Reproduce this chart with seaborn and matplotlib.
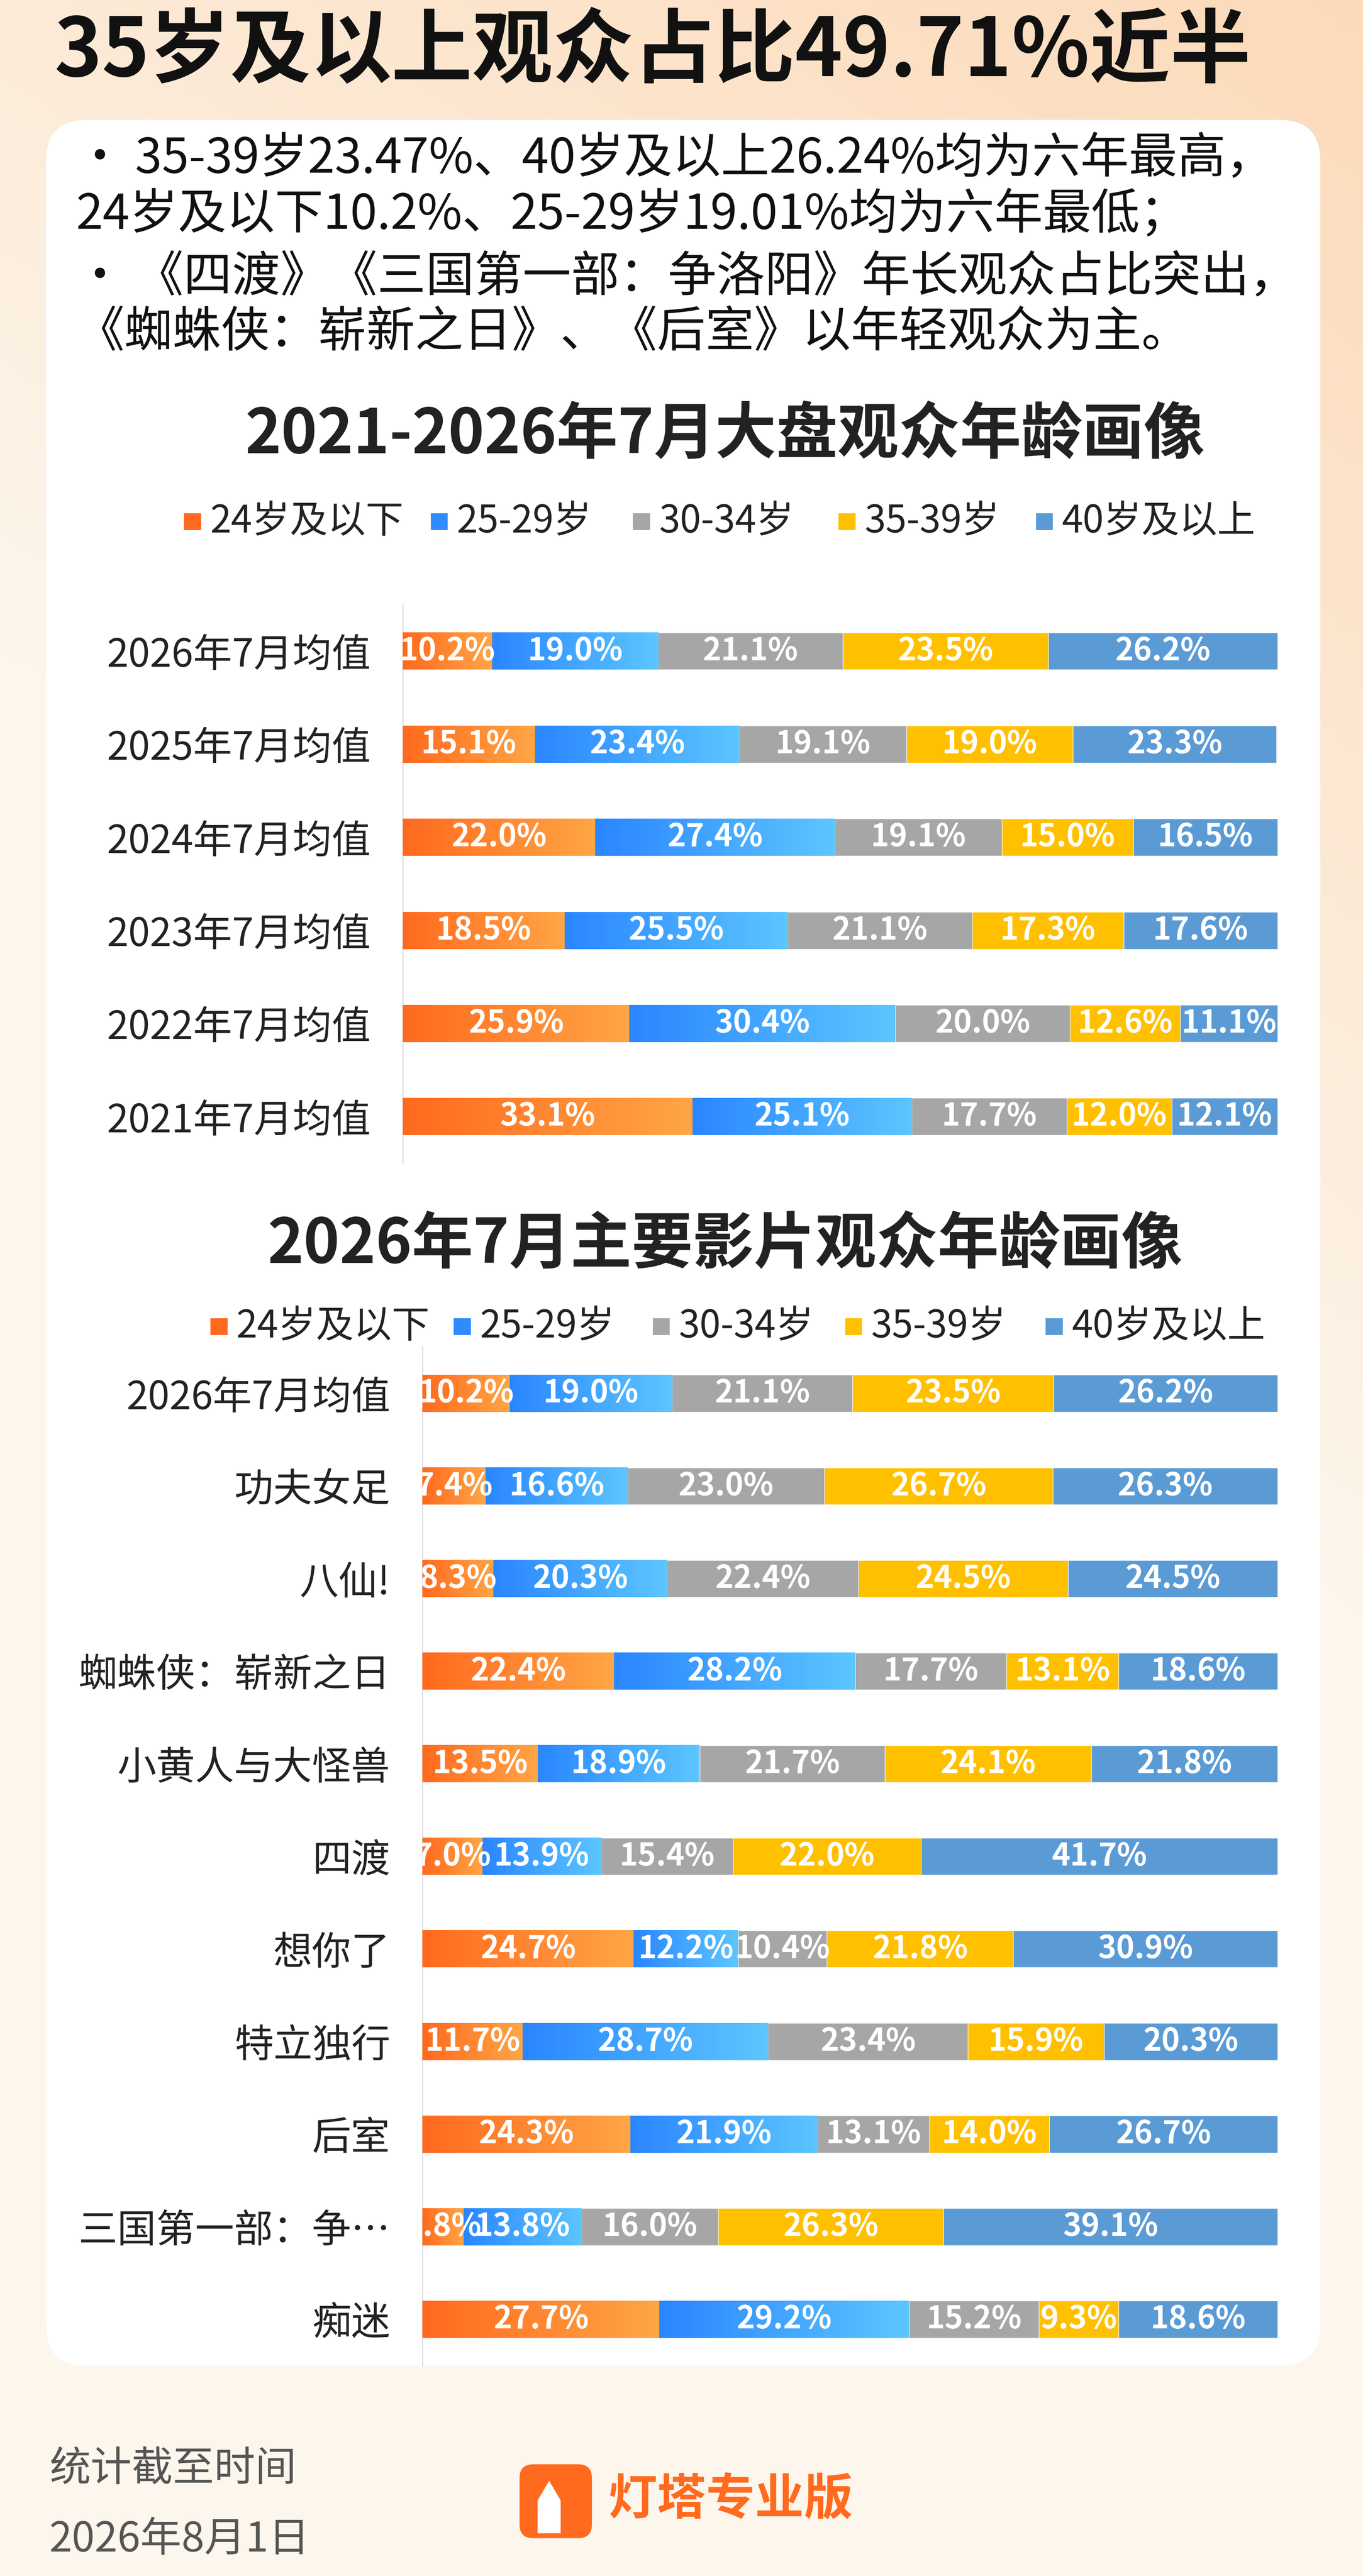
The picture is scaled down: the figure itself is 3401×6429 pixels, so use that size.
import numpy as np
import pandas as pd
import matplotlib
matplotlib.use('Agg')
import matplotlib.pyplot as plt
import seaborn as sns
from matplotlib.patches import FancyBboxPatch, Rectangle, Polygon

sns.set_theme(style='white')
plt.rcParams['font.family'] = ['Noto Sans CJK SC', 'DejaVu Sans']

# 数据
groups = ['24岁及以下', '25-29岁', '30-34岁', '35-39岁', '40岁及以上']
colors = ['#FF6A1F', '#2F8BFF', '#A6A6A6', '#FFC000', '#5B9BD5']
grad_colors = [('#FF6A1F', '#FFA545'), ('#2A86FF', '#5CC6FF')]

years = ['2026年7月均值', '2025年7月均值', '2024年7月均值', '2023年7月均值', '2022年7月均值', '2021年7月均值']
y_u24 = [10.2, 15.1, 22.0, 18.5, 25.9, 33.1]
y_25 = [19.0, 23.4, 27.4, 25.5, 30.4, 25.1]
y_30 = [21.1, 19.1, 19.1, 21.1, 20.0, 17.7]
y_35 = [23.5, 19.0, 15.0, 17.3, 12.6, 12.0]
y_40 = [26.2, 23.3, 16.5, 17.6, 11.1, 12.1]

films = ['2026年7月均值', '功夫女足', '八仙!', '蜘蛛侠：崭新之日', '小黄人与大怪兽', '四渡',
         '想你了', '特立独行', '后室', '三国第一部：争…', '痴迷']
f_u24 = [10.2, 7.4, 8.3, 22.4, 13.5, 7.0, 24.7, 11.7, 24.3, 4.8, 27.7]
f_25 = [19.0, 16.6, 20.3, 28.2, 18.9, 13.9, 12.2, 28.7, 21.9, 13.8, 29.2]
f_30 = [21.1, 23.0, 22.4, 17.7, 21.7, 15.4, 10.4, 23.4, 13.1, 16.0, 15.2]
f_35 = [23.5, 26.7, 24.5, 13.1, 24.1, 22.0, 21.8, 15.9, 14.0, 26.3, 9.3]
f_40 = [26.2, 26.3, 24.5, 18.6, 21.8, 41.7, 30.9, 20.3, 26.7, 39.1, 18.6]

W, H = 3401, 6429
fig = plt.figure(figsize=(W / 100, H / 100), dpi=100)
fig.patch.set_facecolor('#FDF6EC')

# 背景渐变
bg = fig.add_axes([0, 0, 1, 1], zorder=-10)
gx = np.linspace(0, 1, 200)
gy = np.linspace(0, 1, 400)
X, Y = np.meshgrid(gx, gy)
Z = np.clip(1.6 * (Y - 0.75) + 0.6 * X, 0, 1)
c0 = np.array([253, 246, 236]) / 255
c1 = np.array([252, 218, 185]) / 255
img = c0[None, None, :] * (1 - Z[..., None]) + c1[None, None, :] * Z[..., None]
bg.imshow(img, extent=[0, 1, 0, 1], origin='lower', aspect='auto')
bg.set_xlim(0, 1)
bg.set_ylim(0, 1)
bg.axis('off')


def fx(px):
    return px / 829


def fy(py):
    return 1 - py / 1568


card = FancyBboxPatch((fx(28), fy(1440)), fx(803) - fx(28), fy(73) - fy(1440),
                      boxstyle='round,pad=0,rounding_size=0.03', transform=bg.transAxes,
                      facecolor='white', edgecolor='none', mutation_aspect=W / H)
bg.add_patch(card)

fig.text(fx(33), fy(32), '35岁及以上观众占比49.71%近半', fontsize=145, fontweight='bold',
         color='#111111', va='center', ha='left')
bullets = ['• 35-39岁23.47%、40岁及以上26.24%均为六年最高，',
           '24岁及以下10.2%、25-29岁19.01%均为六年最低；',
           '• 《四渡》《三国第一部：争洛阳》年长观众占比突出，',
           '《蜘蛛侠：崭新之日》、《后室》以年轻观众为主。']
for t, yy in zip(bullets, [97, 131, 169, 203]):
    fig.text(fx(46), fy(yy), t, fontsize=87, color='#111111', va='center', ha='left')


def legend(y, xs):
    for g, c, xx in zip(groups, colors, xs):
        bg.add_patch(Rectangle((fx(xx), fy(y) - 0.0011), 0.0125, 0.0066,
                               transform=bg.transAxes, facecolor=c, edgecolor='none'))
        fig.text(fx(xx) + 0.019, fy(y) + 0.0022, g, fontsize=68, color='#222222', va='center', ha='left')


def stacked(ax, cats, series):
    cum = np.cumsum(np.array(series), axis=0)
    for k in range(len(series) - 1, -1, -1):
        df = pd.DataFrame({'cat': cats, 'val': cum[k]})
        sns.barplot(data=df, x='val', y='cat', orient='h', color=colors[k], saturation=1,
                    width=0.4, ax=ax, order=cats)
    for k in range(2):
        for i in range(len(cats)):
            x0 = cum[k][i] - series[k][i]
            x1 = cum[k][i]
            grad = np.linspace(0, 1, 64)[None, :, None]
            a = np.array(matplotlib.colors.to_rgb(grad_colors[k][0]))
            b = np.array(matplotlib.colors.to_rgb(grad_colors[k][1]))
            im = a * (1 - grad) + b * grad
            ax.imshow(im, extent=[x0, x1, i + 0.2, i - 0.2], aspect='auto', zorder=3)
    for k in range(len(series)):
        for i in range(len(cats)):
            v = series[k][i]
            mid = cum[k][i] - v / 2
            ax.text(mid, i, f'{v:.1f}%', ha='center', va='center', color='white',
                    fontsize=56, fontweight='bold', zorder=5, clip_on=True)
    ax.set_xlim(0, 100)
    ax.set_ylim(len(cats) - 0.5, -0.5)
    ax.set_xlabel('')
    ax.set_ylabel('')
    ax.set_xticks([])
    ax.tick_params(axis='y', labelsize=70, colors='#222222', length=0, pad=58)
    for s in ['top', 'right', 'bottom']:
        ax.spines[s].set_visible(False)
    ax.spines['left'].set_color('#DDDDDD')
    ax.spines['left'].set_linewidth(2)
    ax.set_facecolor('none')


fig.text(fx(441), fy(265), '2021-2026年7月大盘观众年龄画像', fontsize=110, fontweight='bold',
         color='#222222', ha='center', va='center')
legend(321, [112, 262, 385, 510, 630])
ax1 = fig.add_axes([fx(245), fy(708), fx(777) - fx(245), fy(368) - fy(708)])
stacked(ax1, years, [y_u24, y_25, y_30, y_35, y_40])

fig.text(fx(441), fy(758), '2026年7月主要影片观众年龄画像', fontsize=110, fontweight='bold',
         color='#222222', ha='center', va='center')
legend(811, [128, 276, 397, 514, 636])
ax2 = fig.add_axes([fx(257), fy(1440), fx(777) - fx(257), fy(820) - fy(1440)])
stacked(ax2, films, [f_u24, f_25, f_30, f_35, f_40])

# 页脚
fig.text(fx(30), fy(1503), '统计截至时间', fontsize=74, color='#555555', va='center', ha='left')
fig.text(fx(30), fy(1546), '2026年8月1日', fontsize=74, color='#555555', va='center', ha='left')
logo = FancyBboxPatch((fx(316), fy(1545)), fx(360) - fx(316), fy(1500) - fy(1545),
                      boxstyle='round,pad=0,rounding_size=0.01', transform=bg.transAxes,
                      facecolor='#FF6A1F', edgecolor='none', mutation_aspect=W / H)
bg.add_patch(logo)
bg.add_patch(Polygon([(fx(334), fy(1510)), (fx(327), fy(1522)), (fx(327), fy(1542)),
                      (fx(341), fy(1542)), (fx(341), fy(1522))],
                     closed=True, transform=bg.transAxes, facecolor='white', edgecolor='none'))
fig.text(fx(370), fy(1522), '灯塔专业版', fontsize=88, fontweight='bold', color='#FF6A1F',
         va='center', ha='left')

fig.savefig('out.png', dpi=100, facecolor=fig.get_facecolor())
